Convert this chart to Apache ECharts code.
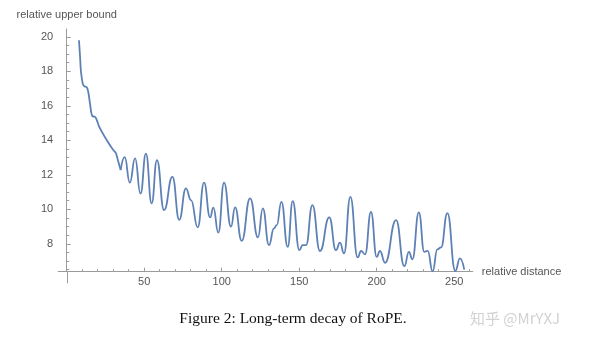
<!DOCTYPE html>
<html>
<head>
<meta charset="utf-8">
<script src="https://cdn.jsdelivr.net/npm/echarts@6/dist/echarts.min.js"></script>
<style>
  html, body { margin: 0; padding: 0; background: #fff; }
  #chart { width: 589px; height: 340px; }
</style>
</head>
<body>
<div id="chart"></div>
<script>
// Relative distance (x) and the relative upper bound at that distance (y).
const distance = [
  7.9, 8.6, 9.2, 10.3, 11.2, 12.9, 13.9, 15, 16.5, 18.3, 19.4, 21, 25.8, 30, 31.6, 32.7,
  34.8, 37.4, 40.7, 44.1, 47.6, 51.1, 54.8, 58.2, 62.8, 68.2, 72.6, 76.9, 80.2, 84.5,
  88.6, 92.5, 94.6, 97.8, 101.5, 106, 108.6, 112.9, 118.3, 123.4, 126.5, 130.5, 133.7,
  135.5, 138.5, 142.6, 145.8, 150.1, 152.2, 154.4, 158.5, 163.4, 169.4, 173.7, 176.3,
  178.9, 183, 187.7, 189.9, 192.5, 196.3, 200, 202.1, 205.4, 212.5, 217.8, 220.8, 223,
  227.2, 230.7, 232.9, 236.1, 239.1, 241.5, 245.6, 250.7, 253.7, 256.5
];
const bound = [
  19.8, 18.85, 17.97, 17.3, 17.14, 17.07, 16.8, 16.14, 15.4, 15.36, 15.17, 14.78, 14.01, 13.43, 13.28, 12.95,
  12.27, 13.02, 11.54, 12.95, 10.91, 13.22, 10.34, 12.85, 9.95, 11.88, 9.39, 11.21, 10.53, 8.95,
  11.54, 9.53, 10.09, 8.64, 11.54, 8.99, 10.11, 8.17, 10.63, 8.37, 10.05, 7.92, 8.89,
  9.08, 10.43, 7.82, 10.47, 7.63, 7.92, 7.92, 10.24, 7.58, 9.53, 7.63, 8.06,
  7.44, 10.72, 7.21, 7.58, 7.39, 9.84, 7.24, 7.58, 6.9, 9.37, 6.7, 7.53, 7.1,
  9.82, 7.53, 7.59, 6.4, 7.67, 7.79, 9.78, 6.42, 7.15, 6.5
];
// The steady early decline ends at the first trough; the oscillating tail starts there.
const oscillationStart = 16;

// Tick values
const xMajorTicks = [50, 100, 150, 200, 250];
const xMinorTicks = [10, 20, 30, 40, 60, 70, 80, 90, 110, 120, 130, 140, 160, 170, 180, 190, 210, 220, 230, 240, 260];
const yMajorTicks = [8, 10, 12, 14, 16, 18, 20];
const yMinorTicks = [];
for (let v = 6.5; v <= 20.01; v += 0.5) {
  if (Math.abs(v % 2) > 1e-6) yMinorTicks.push(v);
}

const X_MIN = -5.5, X_MAX = 262;
const Y_MIN = 6.38, Y_MAX = 20.45, Y_AXIS_LOW = 5.7;

const AXIS_COLOR = '#9b9b9b';
const LABEL_COLOR = '#555';
const LINE_COLOR = '#5e81b5';
const SANS = '"Liberation Sans", Arial, sans-serif';

const points = distance.map((d, i) => [d, bound[i]]);

const chart = echarts.init(document.getElementById('chart'), null, { renderer: 'canvas' });

const baseX = {
  type: 'value', min: X_MIN, max: X_MAX, position: 'bottom',
  splitLine: { show: false }
};
const baseY = {
  type: 'value', min: Y_MIN, max: Y_MAX, position: 'left',
  splitLine: { show: false }
};
const baseLine = {
  type: 'line', xAxisIndex: 0, yAxisIndex: 0,
  showSymbol: false, clip: true,
  lineStyle: { color: LINE_COLOR, width: 1.8 }
};

chart.setOption({
  animation: false,
  backgroundColor: '#fff',
  grid: { left: 58.2, right: 116.2, top: 29, bottom: 68.3, containLabel: false },
  title: [
    {
      text: 'Figure 2: Long-term decay of RoPE.',
      left: 288, top: 306, textAlign: 'center',
      textStyle: { fontFamily: '"Liberation Serif", "Times New Roman", serif', fontSize: 15.5, fontWeight: 'normal', color: '#111' }
    },
    {
      text: '知乎 @MrYXJ',
      left: 465, top: 306,
      textStyle: { fontFamily: '"Noto Sans CJK SC", sans-serif', fontSize: 15, fontWeight: 'normal', color: '#d2d2d2' }
    }
  ],
  xAxis: [
    Object.assign({}, baseX, {
      name: 'relative distance', nameLocation: 'end', nameGap: 9,
      nameTextStyle: { fontFamily: SANS, fontSize: 11, color: LABEL_COLOR, verticalAlign: 'middle' },
      axisLine: { show: true, lineStyle: { color: AXIS_COLOR, width: 1 } },
      axisTick: { show: true, inside: true, length: 4, customValues: xMajorTicks, lineStyle: { color: AXIS_COLOR } },
      axisLabel: { show: true, customValues: xMajorTicks, margin: 5, fontFamily: SANS, fontSize: 11, color: LABEL_COLOR }
    }),
    Object.assign({}, baseX, {
      axisLine: { show: false },
      axisTick: { show: true, inside: true, length: 2.5, customValues: xMinorTicks, lineStyle: { color: AXIS_COLOR } },
      axisLabel: { show: false }
    })
  ],
  yAxis: [
    Object.assign({}, baseY, {
      name: 'relative upper bound', nameLocation: 'end', nameGap: 9,
      nameTextStyle: { fontFamily: SANS, fontSize: 11, color: LABEL_COLOR },
      axisLine: { show: true, onZero: true, lineStyle: { color: AXIS_COLOR, width: 1 } },
      axisTick: { show: true, inside: true, length: 4, customValues: yMajorTicks, lineStyle: { color: AXIS_COLOR } },
      axisLabel: { show: true, customValues: yMajorTicks, margin: 5, fontFamily: SANS, fontSize: 11, color: LABEL_COLOR }
    }),
    Object.assign({}, baseY, {
      axisLine: { show: false, onZero: true },
      axisTick: { show: true, inside: true, length: 2.5, customValues: yMinorTicks, lineStyle: { color: AXIS_COLOR } },
      axisLabel: { show: false }
    })
  ],
  series: [
    // early decline: ordinary smoothing
    Object.assign({}, baseLine, {
      data: points.slice(0, oscillationStart + 1),
      smooth: 0.35
    }),
    // oscillating tail: flat tangents at each peak and trough
    Object.assign({}, baseLine, {
      data: points.slice(oscillationStart),
      smooth: 0.5,
      smoothMonotone: 'x'
    })
  ]
});

// The vertical axis runs a little below the horizontal one
const crossing = chart.convertToPixel({ xAxisIndex: 0, yAxisIndex: 0 }, [0, Y_MIN]);
const lowEnd = chart.convertToPixel({ xAxisIndex: 0, yAxisIndex: 0 }, [0, Y_AXIS_LOW]);
chart.setOption({
  graphic: [{
    type: 'line', silent: true,
    shape: { x1: Math.round(crossing[0]) + 0.5, y1: crossing[1], x2: Math.round(crossing[0]) + 0.5, y2: lowEnd[1] },
    style: { stroke: AXIS_COLOR, lineWidth: 1 }
  }]
});
</script>
</body>
</html>
